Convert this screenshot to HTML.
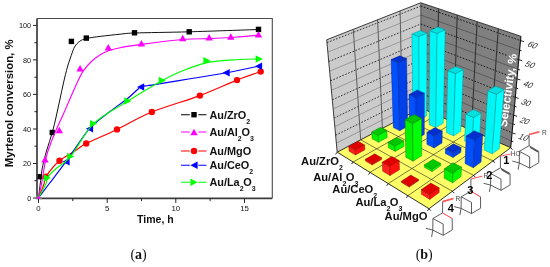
<!DOCTYPE html>
<html><head><meta charset="utf-8"><title>Figure</title>
<style>html,body{margin:0;padding:0;background:#fff;}svg{display:block;}</style></head><body>
<svg width="550" height="267" viewBox="0 0 550 267">
<defs><clipPath id="clipL"><rect x="36.4" y="18.5" width="235.3" height="180.6"/></clipPath></defs>
<rect width="550" height="267" fill="#fff"/>
<g>
<rect x="37.0" y="18.5" width="235.3" height="179.8" fill="#fff" stroke="none"/>
<path d="M37.0 18.5 H272.3 V198.3" fill="none" stroke="#4a4a4a" stroke-width="1.1"/>
<path d="M38.5 197.8 C38.8 195.5 39.6 188.8 40.2 184.0 C40.8 179.2 41.1 174.6 42.1 169.1 C43.1 163.6 44.8 157.1 46.5 151.0 C48.2 144.9 50.7 138.3 52.3 132.5 C53.9 126.7 55.0 121.6 56.3 116.0 C57.6 110.4 58.8 104.7 60.0 99.0 C61.2 93.3 62.5 87.3 63.7 82.0 C64.9 76.7 66.2 71.5 67.4 67.1 C68.7 62.7 70.0 59.0 71.2 55.6 C72.4 52.2 73.3 49.0 74.8 46.6 C76.2 44.2 78.0 42.6 79.9 41.2 C81.8 39.9 82.8 39.3 86.3 38.5 C89.8 37.7 95.3 37.0 100.9 36.3 C106.5 35.6 114.4 34.8 120.0 34.2 C125.6 33.7 123.0 33.4 134.5 33.0 C146.0 32.6 168.5 32.4 189.2 31.8 C209.9 31.2 246.9 29.9 258.5 29.5" fill="none" stroke="#111" stroke-width="1.0"/>
<rect x="36.5" y="174.0" width="5.4" height="5.4" fill="#000"/>
<rect x="49.6" y="129.8" width="5.4" height="5.4" fill="#000"/>
<rect x="68.7" y="38.7" width="5.4" height="5.4" fill="#000"/>
<rect x="83.6" y="35.4" width="5.4" height="5.4" fill="#000"/>
<rect x="131.8" y="30.1" width="5.4" height="5.4" fill="#000"/>
<rect x="186.5" y="29.1" width="5.4" height="5.4" fill="#000"/>
<rect x="255.8" y="26.7" width="5.4" height="5.4" fill="#000"/>
<path d="M38.5 197.8 C39.0 195.5 40.6 188.6 41.5 184.0 C42.4 179.4 43.1 174.0 43.8 170.0 C44.5 166.0 44.9 163.3 45.6 160.0 C46.4 156.7 46.8 154.4 48.3 150.0 C49.8 145.6 52.1 139.5 54.5 133.8 C56.9 128.1 60.0 121.6 62.5 116.0 C65.0 110.4 67.0 105.7 69.5 100.0 C72.0 94.3 75.2 86.8 77.5 82.0 C79.8 77.2 81.1 74.2 83.3 70.9 C85.5 67.6 88.2 64.7 90.9 62.0 C93.7 59.4 96.6 57.0 99.8 55.0 C103.0 53.0 106.6 51.5 110.0 50.3 C113.4 49.1 114.8 48.7 120.0 47.7 C125.2 46.7 131.0 45.8 141.4 44.4 C151.8 43.0 171.4 40.5 182.7 39.5 C194.0 38.5 201.2 38.9 209.2 38.6 C217.2 38.3 222.6 38.1 230.8 37.5 C239.0 36.9 253.9 35.6 258.5 35.2" fill="none" stroke="#ff00ff" stroke-width="1.15"/>
<path d="M45.0 155.9 l3.7 6.5 h-7.4 z" fill="#ff00ff"/>
<path d="M59.3 126.7 l3.7 6.5 h-7.4 z" fill="#ff00ff"/>
<path d="M80.1 65.1 l3.7 6.5 h-7.4 z" fill="#ff00ff"/>
<path d="M108.3 44.1 l3.7 6.5 h-7.4 z" fill="#ff00ff"/>
<path d="M141.4 39.9 l3.7 6.5 h-7.4 z" fill="#ff00ff"/>
<path d="M182.7 34.8 l3.7 6.5 h-7.4 z" fill="#ff00ff"/>
<path d="M209.2 34.1 l3.7 6.5 h-7.4 z" fill="#ff00ff"/>
<path d="M230.8 33.3 l3.7 6.5 h-7.4 z" fill="#ff00ff"/>
<path d="M258.5 30.9 l3.7 6.5 h-7.4 z" fill="#ff00ff"/>
<path d="M38.5 197.8 C39.4 195.5 42.8 187.5 44.0 184.0 C45.2 180.5 43.3 180.6 45.9 176.7 C48.5 172.8 54.4 165.2 59.5 160.8 C64.6 156.4 72.0 152.9 76.4 150.0 C80.9 147.1 79.4 146.9 86.2 143.5 C93.0 140.1 106.1 134.7 117.0 129.4 C127.9 124.2 138.0 117.6 151.8 112.0 C165.6 106.4 185.7 100.9 199.9 95.6 C214.1 90.3 226.9 84.1 237.0 80.1 C247.1 76.1 256.8 73.0 260.7 71.6" fill="none" stroke="#ff0000" stroke-width="1.15"/>
<circle cx="45.9" cy="176.7" r="3.2" fill="#ff0000"/>
<circle cx="59.5" cy="160.8" r="3.2" fill="#ff0000"/>
<circle cx="86.2" cy="143.5" r="3.2" fill="#ff0000"/>
<circle cx="117.0" cy="129.4" r="3.2" fill="#ff0000"/>
<circle cx="151.8" cy="112.0" r="3.2" fill="#ff0000"/>
<circle cx="199.9" cy="95.6" r="3.2" fill="#ff0000"/>
<circle cx="237.0" cy="80.1" r="3.2" fill="#ff0000"/>
<circle cx="260.7" cy="71.6" r="3.2" fill="#ff0000"/>
<path d="M38.5 197.8 C40.2 195.5 44.4 190.0 49.0 184.0 C53.6 178.0 59.2 170.9 66.0 161.7 C72.8 152.5 82.2 137.1 89.5 128.7 C96.8 120.3 103.8 116.5 110.0 111.5 C116.2 106.5 122.5 102.6 127.0 99.0 C131.5 95.4 134.7 92.0 137.0 90.0 C139.3 88.0 138.9 87.7 140.6 87.0 C142.3 86.3 144.4 86.1 147.0 85.7 C149.6 85.3 148.8 85.6 156.0 84.4 C163.2 83.2 178.3 80.7 190.0 78.8 C201.7 76.9 214.7 74.9 226.1 72.8 C237.5 70.7 253.1 67.3 258.5 66.2" fill="none" stroke="#0000ff" stroke-width="1.15"/>
<path d="M62.4 161.7 l7.2 -3.7 v7.4 z" fill="#0000ff"/>
<path d="M85.9 128.7 l7.2 -3.7 v7.4 z" fill="#0000ff"/>
<path d="M137.0 87.0 l7.2 -3.7 v7.4 z" fill="#0000ff"/>
<path d="M222.5 72.8 l7.2 -3.7 v7.4 z" fill="#0000ff"/>
<path d="M254.9 66.2 l7.2 -3.7 v7.4 z" fill="#0000ff"/>
<path d="M38.5 197.8 C39.7 195.5 44.4 187.3 45.9 184.0 C47.4 180.7 45.7 180.4 47.2 178.0 C48.7 175.6 51.1 173.1 55.0 169.5 C58.9 165.9 64.3 164.1 70.7 156.4 C77.1 148.8 84.1 132.8 93.6 123.6 C103.1 114.4 116.5 108.2 127.9 101.0 C139.4 93.8 153.5 85.4 162.3 80.5 C171.1 75.6 173.4 74.5 180.8 71.5 C188.2 68.5 197.3 64.6 207.0 62.6 C216.7 60.6 230.1 60.1 238.8 59.5 C247.5 58.9 255.8 59.1 259.2 59.0" fill="none" stroke="#00ff00" stroke-width="1.15"/>
<path d="M50.8 178.0 l-7.2 -3.7 v7.4 z" fill="#00ff00"/>
<path d="M74.3 156.4 l-7.2 -3.7 v7.4 z" fill="#00ff00"/>
<path d="M97.2 123.6 l-7.2 -3.7 v7.4 z" fill="#00ff00"/>
<path d="M131.5 101.0 l-7.2 -3.7 v7.4 z" fill="#00ff00"/>
<path d="M165.9 80.5 l-7.2 -3.7 v7.4 z" fill="#00ff00"/>
<path d="M210.6 60.8 l-7.2 -3.7 v7.4 z" fill="#00ff00"/>
<path d="M262.8 59.0 l-7.2 -3.7 v7.4 z" fill="#00ff00"/>
<path d="M37.0 18.5 V198.3 H272.3" fill="none" stroke="#3c3c3c" stroke-width="1.7"/>
<path d="M37.0 198.0 h-4.0" stroke="#222" stroke-width="1"/>
<text x="31.2" y="200.7" font-family='"Liberation Sans", Arial, sans-serif' font-size="7.3" text-anchor="end" fill="#111">0</text>
<path d="M37.0 180.7 h-2.6" stroke="#222" stroke-width="1"/>
<path d="M37.0 163.5 h-4.0" stroke="#222" stroke-width="1"/>
<text x="31.2" y="166.1" font-family='"Liberation Sans", Arial, sans-serif' font-size="7.3" text-anchor="end" fill="#111">20</text>
<path d="M37.0 146.2 h-2.6" stroke="#222" stroke-width="1"/>
<path d="M37.0 129.0 h-4.0" stroke="#222" stroke-width="1"/>
<text x="31.2" y="131.6" font-family='"Liberation Sans", Arial, sans-serif' font-size="7.3" text-anchor="end" fill="#111">40</text>
<path d="M37.0 111.7 h-2.6" stroke="#222" stroke-width="1"/>
<path d="M37.0 94.4 h-4.0" stroke="#222" stroke-width="1"/>
<text x="31.2" y="97.1" font-family='"Liberation Sans", Arial, sans-serif' font-size="7.3" text-anchor="end" fill="#111">60</text>
<path d="M37.0 77.2 h-2.6" stroke="#222" stroke-width="1"/>
<path d="M37.0 59.9 h-4.0" stroke="#222" stroke-width="1"/>
<text x="31.2" y="62.6" font-family='"Liberation Sans", Arial, sans-serif' font-size="7.3" text-anchor="end" fill="#111">80</text>
<path d="M37.0 42.7 h-2.6" stroke="#222" stroke-width="1"/>
<path d="M37.0 25.4 h-4.0" stroke="#222" stroke-width="1"/>
<text x="31.2" y="28.1" font-family='"Liberation Sans", Arial, sans-serif' font-size="7.3" text-anchor="end" fill="#111">100</text>
<path d="M38.5 198.3 v4.6" stroke="#222" stroke-width="1"/>
<text x="38.5" y="210.6" font-family='"Liberation Sans", Arial, sans-serif' font-size="7.8" text-anchor="middle" fill="#111">0</text>
<path d="M72.8 198.3 v2.8" stroke="#222" stroke-width="1"/>
<path d="M107.2 198.3 v4.6" stroke="#222" stroke-width="1"/>
<text x="107.2" y="210.6" font-family='"Liberation Sans", Arial, sans-serif' font-size="7.8" text-anchor="middle" fill="#111">5</text>
<path d="M141.5 198.3 v2.8" stroke="#222" stroke-width="1"/>
<path d="M175.8 198.3 v4.6" stroke="#222" stroke-width="1"/>
<text x="175.8" y="210.6" font-family='"Liberation Sans", Arial, sans-serif' font-size="7.8" text-anchor="middle" fill="#111">10</text>
<path d="M210.1 198.3 v2.8" stroke="#222" stroke-width="1"/>
<path d="M244.5 198.3 v4.6" stroke="#222" stroke-width="1"/>
<text x="244.5" y="210.6" font-family='"Liberation Sans", Arial, sans-serif' font-size="7.8" text-anchor="middle" fill="#111">15</text>
<g clip-path="url(#clipL)">
<path d="M42.1 198.2 l-7.2 -3.7 v7.4 z" fill="#00ff00"/>
<path d="M38.5 194.6 l3.7 6.5 h-7.4 z" fill="#ff00ff"/>
</g>
<text transform="translate(12.7,103.3) rotate(-90) scale(1.085,1)" font-family='"Liberation Sans", Arial, sans-serif' font-size="10.5" font-weight="bold" text-anchor="middle" fill="#111">Myrtenol conversion, %</text>
<text x="155.4" y="222.8" font-family='"Liberation Sans", Arial, sans-serif' font-size="10.5" font-weight="bold" text-anchor="middle" fill="#111">Time, h</text>
<path d="M181 114.7 H189.8 M198.3 114.7 H206.5" stroke="#000" stroke-width="1.1"/>
<rect x="191.3" y="112.0" width="5.4" height="5.4" fill="#000"/>
<text x="209.4" y="118.7" font-family='"Liberation Sans", Arial, sans-serif' font-size="10.9" font-weight="bold" fill="#111">Au/ZrO<tspan dy="4.8" font-size="7">2</tspan><tspan dx="-0.6" dy="-4.8" font-size="1"> </tspan></text>
<path d="M181 132.0 H189.8 M198.3 132.0 H206.5" stroke="#ff00ff" stroke-width="1.1"/>
<path d="M194.0 128.7 l3.7 6.5 h-7.4 z" fill="#ff00ff"/>
<text x="209.4" y="136.0" font-family='"Liberation Sans", Arial, sans-serif' font-size="10.9" font-weight="bold" fill="#111">Au/Al<tspan dy="4.8" font-size="7">2</tspan><tspan dx="-0.6" dy="-4.8" font-size="1"> </tspan>O<tspan dy="4.8" font-size="7">3</tspan><tspan dx="-0.6" dy="-4.8" font-size="1"> </tspan></text>
<path d="M181 151.0 H189.8 M198.3 151.0 H206.5" stroke="#ff0000" stroke-width="1.1"/>
<circle cx="194.0" cy="151.0" r="3.2" fill="#ff0000"/>
<text x="209.4" y="155.0" font-family='"Liberation Sans", Arial, sans-serif' font-size="10.9" font-weight="bold" fill="#111">Au/MgO</text>
<path d="M181 165.3 H189.8 M198.3 165.3 H206.5" stroke="#0000ff" stroke-width="1.1"/>
<path d="M190.4 165.3 l7.2 -3.7 v7.4 z" fill="#0000ff"/>
<text x="209.4" y="169.3" font-family='"Liberation Sans", Arial, sans-serif' font-size="10.9" font-weight="bold" fill="#111">Au/CeO<tspan dy="4.8" font-size="7">2</tspan><tspan dx="-0.6" dy="-4.8" font-size="1"> </tspan></text>
<path d="M181 182.3 H189.8 M198.3 182.3 H206.5" stroke="#00ff00" stroke-width="1.1"/>
<path d="M197.6 182.3 l-7.2 -3.7 v7.4 z" fill="#00ff00"/>
<text x="209.4" y="186.3" font-family='"Liberation Sans", Arial, sans-serif' font-size="10.9" font-weight="bold" fill="#111">Au/La<tspan dy="4.8" font-size="7">2</tspan><tspan dx="-0.6" dy="-4.8" font-size="1"> </tspan>O<tspan dy="4.8" font-size="7">3</tspan><tspan dx="-0.6" dy="-4.8" font-size="1"> </tspan></text>
<text x="138.6" y="258.8" font-family='"Liberation Serif", serif' font-size="14" text-anchor="middle" fill="#111">(<tspan font-weight="bold">a</tspan>)</text>
</g>
<g>
<polygon points="337.2,152.2 421.0,108.0 420.8,2.8 326.7,39.8" fill="#cbcbcb" stroke="none" stroke-width="0.7" stroke-linejoin="round" />
<polygon points="421.0,108.0 510.7,147.7 520.9,36.3 420.8,2.8" fill="#808080" stroke="none" stroke-width="0.7" stroke-linejoin="round" />
<line x1="336.3" y1="143.1" x2="421.0" y2="100.6" stroke="#6e6e6e" stroke-width="0.55" />
<line x1="421.0" y1="100.6" x2="511.3" y2="141.0" stroke="#3c3c3c" stroke-width="0.55" />
<line x1="335.6" y1="135.2" x2="421.0" y2="93.1" stroke="#1a1a1a" stroke-width="0.85" stroke-dasharray="1.7 1.5"/>
<line x1="421.0" y1="93.1" x2="512.1" y2="132.9" stroke="#0a0a0a" stroke-width="0.85" stroke-dasharray="1.7 1.5"/>
<line x1="334.8" y1="126.6" x2="421.0" y2="84.9" stroke="#6e6e6e" stroke-width="0.55" />
<line x1="421.0" y1="84.9" x2="512.9" y2="124.1" stroke="#3c3c3c" stroke-width="0.55" />
<line x1="334.0" y1="118.0" x2="420.9" y2="76.7" stroke="#1a1a1a" stroke-width="0.85" stroke-dasharray="1.7 1.5"/>
<line x1="420.9" y1="76.7" x2="513.7" y2="115.3" stroke="#0a0a0a" stroke-width="0.85" stroke-dasharray="1.7 1.5"/>
<line x1="333.2" y1="108.9" x2="420.9" y2="68.2" stroke="#6e6e6e" stroke-width="0.55" />
<line x1="420.9" y1="68.2" x2="514.5" y2="106.3" stroke="#3c3c3c" stroke-width="0.55" />
<line x1="332.3" y1="99.8" x2="420.9" y2="59.7" stroke="#1a1a1a" stroke-width="0.85" stroke-dasharray="1.7 1.5"/>
<line x1="420.9" y1="59.7" x2="515.3" y2="97.4" stroke="#0a0a0a" stroke-width="0.85" stroke-dasharray="1.7 1.5"/>
<line x1="331.4" y1="90.3" x2="420.9" y2="50.9" stroke="#6e6e6e" stroke-width="0.55" />
<line x1="420.9" y1="50.9" x2="516.2" y2="88.1" stroke="#3c3c3c" stroke-width="0.55" />
<line x1="330.5" y1="80.8" x2="420.9" y2="42.1" stroke="#1a1a1a" stroke-width="0.85" stroke-dasharray="1.7 1.5"/>
<line x1="420.9" y1="42.1" x2="517.0" y2="78.9" stroke="#0a0a0a" stroke-width="0.85" stroke-dasharray="1.7 1.5"/>
<line x1="329.6" y1="71.2" x2="420.9" y2="33.1" stroke="#6e6e6e" stroke-width="0.55" />
<line x1="420.9" y1="33.1" x2="517.9" y2="69.3" stroke="#3c3c3c" stroke-width="0.55" />
<line x1="328.7" y1="61.5" x2="420.8" y2="24.0" stroke="#1a1a1a" stroke-width="0.85" stroke-dasharray="1.7 1.5"/>
<line x1="420.8" y1="24.0" x2="518.8" y2="59.7" stroke="#0a0a0a" stroke-width="0.85" stroke-dasharray="1.7 1.5"/>
<line x1="327.8" y1="52.1" x2="420.8" y2="15.1" stroke="#6e6e6e" stroke-width="0.55" />
<line x1="420.8" y1="15.1" x2="519.6" y2="50.2" stroke="#3c3c3c" stroke-width="0.55" />
<line x1="327.0" y1="42.6" x2="420.8" y2="6.1" stroke="#1a1a1a" stroke-width="0.85" stroke-dasharray="1.7 1.5"/>
<line x1="420.8" y1="6.1" x2="520.5" y2="40.6" stroke="#0a0a0a" stroke-width="0.85" stroke-dasharray="1.7 1.5"/>
<line x1="402.4" y1="117.8" x2="400.1" y2="10.9" stroke="#5c5c5c" stroke-width="1.0" />
<line x1="382.4" y1="128.3" x2="377.6" y2="19.8" stroke="#5c5c5c" stroke-width="1.0" />
<line x1="360.7" y1="139.8" x2="353.3" y2="29.4" stroke="#5c5c5c" stroke-width="1.0" />
<line x1="436.9" y1="115.0" x2="438.5" y2="8.7" stroke="#333" stroke-width="1.1" />
<line x1="453.7" y1="122.5" x2="457.2" y2="15.0" stroke="#333" stroke-width="1.1" />
<line x1="471.5" y1="130.4" x2="477.1" y2="21.7" stroke="#333" stroke-width="1.1" />
<line x1="490.5" y1="138.8" x2="498.3" y2="28.7" stroke="#333" stroke-width="1.1" />
<polyline points="337.2,152.2 326.7,39.8 420.8,2.8 520.9,36.3" fill="none" stroke="#2a2a2a" stroke-width="0.9" stroke-linejoin="round"/>
<line x1="421.0" y1="108.0" x2="420.8" y2="2.8" stroke="#3a3a3a" stroke-width="0.8" />
<polygon points="337.2,152.2 429.0,208.7 510.7,147.7 421.0,108.0" fill="#ffff66" stroke="#1a1a1a" stroke-width="0.9" stroke-linejoin="round" />
<line x1="402.4" y1="117.8" x2="493.0" y2="160.9" stroke="#222" stroke-width="0.6" />
<line x1="382.4" y1="128.3" x2="473.7" y2="175.4" stroke="#222" stroke-width="0.6" />
<line x1="360.7" y1="139.8" x2="452.4" y2="191.2" stroke="#222" stroke-width="0.6" />
<line x1="436.9" y1="115.0" x2="353.1" y2="162.0" stroke="#222" stroke-width="0.6" />
<line x1="453.7" y1="122.5" x2="370.1" y2="172.4" stroke="#222" stroke-width="0.6" />
<line x1="471.5" y1="130.4" x2="388.3" y2="183.6" stroke="#222" stroke-width="0.6" />
<line x1="490.5" y1="138.8" x2="407.9" y2="195.7" stroke="#222" stroke-width="0.6" />
<line x1="337.2" y1="152.2" x2="335.6" y2="154.4" stroke="#111" stroke-width="0.9" />
<line x1="353.1" y1="162.0" x2="351.5" y2="164.2" stroke="#111" stroke-width="0.9" />
<line x1="370.1" y1="172.4" x2="368.5" y2="174.6" stroke="#111" stroke-width="0.9" />
<line x1="388.3" y1="183.6" x2="386.7" y2="185.8" stroke="#111" stroke-width="0.9" />
<line x1="407.9" y1="195.7" x2="406.3" y2="197.9" stroke="#111" stroke-width="0.9" />
<line x1="429.0" y1="208.7" x2="427.4" y2="210.9" stroke="#111" stroke-width="0.9" />
<line x1="510.7" y1="147.7" x2="512.5" y2="149.7" stroke="#111" stroke-width="0.9" />
<line x1="493.0" y1="160.9" x2="494.8" y2="162.9" stroke="#111" stroke-width="0.9" />
<line x1="473.7" y1="175.4" x2="475.5" y2="177.4" stroke="#111" stroke-width="0.9" />
<line x1="452.4" y1="191.2" x2="454.2" y2="193.2" stroke="#111" stroke-width="0.9" />
<line x1="429.0" y1="208.7" x2="430.8" y2="210.7" stroke="#111" stroke-width="0.9" />
<line x1="511.3" y1="141.0" x2="513.3" y2="141.6" stroke="#111" stroke-width="0.9" />
<line x1="512.1" y1="132.9" x2="515.5" y2="133.9" stroke="#111" stroke-width="0.9" />
<text transform="translate(521.9,139.8) rotate(17) skewX(-20)" font-family='"Liberation Sans", Arial, sans-serif' font-size="8.2" text-anchor="middle" fill="#222">10</text>
<line x1="512.9" y1="124.1" x2="514.9" y2="124.7" stroke="#111" stroke-width="0.9" />
<line x1="513.7" y1="115.3" x2="517.1" y2="116.3" stroke="#111" stroke-width="0.9" />
<text transform="translate(523.1,123.3) rotate(17) skewX(-20)" font-family='"Liberation Sans", Arial, sans-serif' font-size="8.2" text-anchor="middle" fill="#222">20</text>
<line x1="514.5" y1="106.3" x2="516.5" y2="106.9" stroke="#111" stroke-width="0.9" />
<line x1="515.3" y1="97.4" x2="518.7" y2="98.4" stroke="#111" stroke-width="0.9" />
<text transform="translate(524.6,105.1) rotate(17) skewX(-20)" font-family='"Liberation Sans", Arial, sans-serif' font-size="8.2" text-anchor="middle" fill="#222">30</text>
<line x1="516.2" y1="88.1" x2="518.2" y2="88.7" stroke="#111" stroke-width="0.9" />
<line x1="517.0" y1="78.9" x2="520.4" y2="79.9" stroke="#111" stroke-width="0.9" />
<text transform="translate(526.5,86.9) rotate(17) skewX(-20)" font-family='"Liberation Sans", Arial, sans-serif' font-size="8.2" text-anchor="middle" fill="#222">40</text>
<line x1="517.9" y1="69.3" x2="519.9" y2="69.9" stroke="#111" stroke-width="0.9" />
<line x1="518.8" y1="59.7" x2="522.2" y2="60.7" stroke="#111" stroke-width="0.9" />
<text transform="translate(528.4,67.1) rotate(17) skewX(-20)" font-family='"Liberation Sans", Arial, sans-serif' font-size="8.2" text-anchor="middle" fill="#222">50</text>
<line x1="519.6" y1="50.2" x2="521.6" y2="50.8" stroke="#111" stroke-width="0.9" />
<line x1="520.5" y1="40.6" x2="523.9" y2="41.6" stroke="#111" stroke-width="0.9" />
<text transform="translate(531.0,47.4) rotate(17) skewX(-20)" font-family='"Liberation Sans", Arial, sans-serif' font-size="8.2" text-anchor="middle" fill="#222">60</text>
<line x1="510.7" y1="147.7" x2="520.9" y2="36.3" stroke="#111" stroke-width="1.1" />
<text transform="matrix(0.136,-0.991,0.985,0.17,511.8,91.0)" font-family='"Liberation Sans", Arial, sans-serif' font-size="11.7" font-weight="bold" text-anchor="middle" fill="#fff">Selectivity, %</text>
<polygon points="412.8,117.0 419.2,119.9 418.9,36.6 411.9,34.0" fill="#00f4f4" stroke="#008888" stroke-width="0.4" stroke-linejoin="round" />
<polygon points="419.2,119.9 426.6,115.9 427.0,33.1 418.9,36.6" fill="#00ffff" stroke="#008888" stroke-width="0.4" stroke-linejoin="round" />
<polygon points="420.0,30.6 427.0,33.1 418.9,36.6 411.9,34.0" fill="#00e0e0" stroke="#008888" stroke-width="0.4" stroke-linejoin="round" />
<polygon points="429.1,124.5 435.8,127.7 437.1,33.5 429.7,30.7" fill="#00f4f4" stroke="#008888" stroke-width="0.4" stroke-linejoin="round" />
<polygon points="435.8,127.7 443.2,123.3 445.2,29.8 437.1,33.5" fill="#00ffff" stroke="#008888" stroke-width="0.4" stroke-linejoin="round" />
<polygon points="437.8,27.1 445.2,29.8 437.1,33.5 429.7,30.7" fill="#00e0e0" stroke="#008888" stroke-width="0.4" stroke-linejoin="round" />
<polygon points="393.3,127.5 399.7,130.7 398.0,62.5 391.1,59.6" fill="#0050ff" stroke="#001880" stroke-width="0.4" stroke-linejoin="round" />
<polygon points="399.7,130.7 407.7,126.3 406.6,58.6 398.0,62.5" fill="#0040e8" stroke="#001880" stroke-width="0.4" stroke-linejoin="round" />
<polygon points="399.7,55.8 406.6,58.6 398.0,62.5 391.1,59.6" fill="#0030d0" stroke="#001880" stroke-width="0.4" stroke-linejoin="round" />
<polygon points="446.3,132.5 453.5,135.9 455.5,73.6 447.8,70.6" fill="#00f4f4" stroke="#008888" stroke-width="0.4" stroke-linejoin="round" />
<polygon points="453.5,135.9 460.8,131.3 463.2,69.5 455.5,73.6" fill="#00ffff" stroke="#008888" stroke-width="0.4" stroke-linejoin="round" />
<polygon points="455.6,66.5 463.2,69.5 455.5,73.6 447.8,70.6" fill="#00e0e0" stroke="#008888" stroke-width="0.4" stroke-linejoin="round" />
<polygon points="409.6,135.6 416.4,139.1 416.0,97.6 409.0,94.4" fill="#0050ff" stroke="#001880" stroke-width="0.4" stroke-linejoin="round" />
<polygon points="416.4,139.1 424.3,134.4 424.4,93.2 416.0,97.6" fill="#0040e8" stroke="#001880" stroke-width="0.4" stroke-linejoin="round" />
<polygon points="417.3,90.1 424.4,93.2 416.0,97.6 409.0,94.4" fill="#0030d0" stroke="#001880" stroke-width="0.4" stroke-linejoin="round" />
<polygon points="372.1,138.8 378.5,142.3 378.2,135.3 371.7,131.9" fill="#00f000" stroke="#007000" stroke-width="0.4" stroke-linejoin="round" />
<polygon points="378.5,142.3 387.2,137.5 386.9,130.6 378.2,135.3" fill="#00ff00" stroke="#007000" stroke-width="0.4" stroke-linejoin="round" />
<polygon points="380.5,127.3 386.9,130.6 378.2,135.3 371.7,131.9" fill="#00c800" stroke="#007000" stroke-width="0.4" stroke-linejoin="round" />
<polygon points="464.6,141.0 472.2,144.6 473.6,117.6 465.7,114.1" fill="#00f4f4" stroke="#008888" stroke-width="0.4" stroke-linejoin="round" />
<polygon points="472.2,144.6 479.4,139.7 481.0,112.9 473.6,117.6" fill="#00ffff" stroke="#008888" stroke-width="0.4" stroke-linejoin="round" />
<polygon points="473.2,109.6 481.0,112.9 473.6,117.6 465.7,114.1" fill="#00e0e0" stroke="#008888" stroke-width="0.4" stroke-linejoin="round" />
<polygon points="426.9,144.3 434.1,148.0 434.2,135.9 426.9,132.3" fill="#0050ff" stroke="#001880" stroke-width="0.4" stroke-linejoin="round" />
<polygon points="434.1,148.0 442.0,143.0 442.3,131.0 434.2,135.9" fill="#0040e8" stroke="#001880" stroke-width="0.4" stroke-linejoin="round" />
<polygon points="435.0,127.6 442.3,131.0 434.2,135.9 426.9,132.3" fill="#0030d0" stroke="#001880" stroke-width="0.4" stroke-linejoin="round" />
<polygon points="388.4,147.7 395.2,151.4 395.0,146.0 388.2,142.3" fill="#00f000" stroke="#007000" stroke-width="0.4" stroke-linejoin="round" />
<polygon points="395.2,151.4 403.9,146.4 403.8,141.0 395.0,146.0" fill="#00ff00" stroke="#007000" stroke-width="0.4" stroke-linejoin="round" />
<polygon points="396.9,137.4 403.8,141.0 395.0,146.0 388.2,142.3" fill="#00c800" stroke="#007000" stroke-width="0.4" stroke-linejoin="round" />
<polygon points="349.1,151.2 355.5,155.0 355.1,150.0 348.7,146.3" fill="#ff2020" stroke="#800000" stroke-width="0.4" stroke-linejoin="round" />
<polygon points="355.5,155.0 364.9,149.8 364.6,144.9 355.1,150.0" fill="#ff1010" stroke="#800000" stroke-width="0.4" stroke-linejoin="round" />
<polygon points="358.2,141.2 364.6,144.9 355.1,150.0 348.7,146.3" fill="#e00000" stroke="#800000" stroke-width="0.4" stroke-linejoin="round" />
<polygon points="484.1,150.1 492.2,153.9 496.5,94.3 487.8,90.8" fill="#00f4f4" stroke="#008888" stroke-width="0.4" stroke-linejoin="round" />
<polygon points="492.2,153.9 499.3,148.7 504.1,89.5 496.5,94.3" fill="#00ffff" stroke="#008888" stroke-width="0.4" stroke-linejoin="round" />
<polygon points="495.4,86.2 504.1,89.5 496.5,94.3 487.8,90.8" fill="#00e0e0" stroke="#008888" stroke-width="0.4" stroke-linejoin="round" />
<polygon points="445.3,153.6 453.1,157.5 453.2,152.8 445.4,148.9" fill="#0050ff" stroke="#001880" stroke-width="0.4" stroke-linejoin="round" />
<polygon points="453.1,157.5 460.9,152.2 461.1,147.5 453.2,152.8" fill="#0040e8" stroke="#001880" stroke-width="0.4" stroke-linejoin="round" />
<polygon points="453.4,143.8 461.1,147.5 453.2,152.8 445.4,148.9" fill="#0030d0" stroke="#001880" stroke-width="0.4" stroke-linejoin="round" />
<polygon points="405.8,157.2 413.0,161.2 412.6,123.4 405.1,119.6" fill="#00f000" stroke="#007000" stroke-width="0.4" stroke-linejoin="round" />
<polygon points="413.0,161.2 421.7,155.8 421.6,118.3 412.6,123.4" fill="#00ff00" stroke="#007000" stroke-width="0.4" stroke-linejoin="round" />
<polygon points="414.1,114.6 421.6,118.3 412.6,123.4 405.1,119.6" fill="#00c800" stroke="#007000" stroke-width="0.4" stroke-linejoin="round" />
<polygon points="365.4,160.9 372.2,164.9 372.1,163.3 365.3,159.2" fill="#ff2020" stroke="#800000" stroke-width="0.4" stroke-linejoin="round" />
<polygon points="372.2,164.9 381.6,159.4 381.6,157.7 372.1,163.3" fill="#ff1010" stroke="#800000" stroke-width="0.4" stroke-linejoin="round" />
<polygon points="374.7,153.8 381.6,157.7 372.1,163.3 365.3,159.2" fill="#e00000" stroke="#800000" stroke-width="0.4" stroke-linejoin="round" />
<polygon points="465.0,163.5 473.3,167.7 474.7,140.0 466.2,136.0" fill="#0050ff" stroke="#001880" stroke-width="0.4" stroke-linejoin="round" />
<polygon points="473.3,167.7 481.1,162.0 482.7,134.5 474.7,140.0" fill="#0040e8" stroke="#001880" stroke-width="0.4" stroke-linejoin="round" />
<polygon points="474.3,130.7 482.7,134.5 474.7,140.0 466.2,136.0" fill="#0030d0" stroke="#001880" stroke-width="0.4" stroke-linejoin="round" />
<polygon points="424.3,167.3 432.1,171.6 432.1,169.2 424.3,164.9" fill="#00f000" stroke="#007000" stroke-width="0.4" stroke-linejoin="round" />
<polygon points="432.1,171.6 440.7,165.8 440.8,163.4 432.1,169.2" fill="#00ff00" stroke="#007000" stroke-width="0.4" stroke-linejoin="round" />
<polygon points="433.0,159.3 440.8,163.4 432.1,169.2 424.3,164.9" fill="#00c800" stroke="#007000" stroke-width="0.4" stroke-linejoin="round" />
<polygon points="382.7,171.2 390.0,175.6 389.7,166.4 382.3,162.1" fill="#ff2020" stroke="#800000" stroke-width="0.4" stroke-linejoin="round" />
<polygon points="390.0,175.6 399.5,169.7 399.2,160.6 389.7,166.4" fill="#ff1010" stroke="#800000" stroke-width="0.4" stroke-linejoin="round" />
<polygon points="391.9,156.4 399.2,160.6 389.7,166.4 382.3,162.1" fill="#e00000" stroke="#800000" stroke-width="0.4" stroke-linejoin="round" />
<polygon points="444.2,178.2 452.6,182.8 452.9,173.2 444.4,168.7" fill="#00f000" stroke="#007000" stroke-width="0.4" stroke-linejoin="round" />
<polygon points="452.6,182.8 461.1,176.6 461.5,167.0 452.9,173.2" fill="#00ff00" stroke="#007000" stroke-width="0.4" stroke-linejoin="round" />
<polygon points="453.1,162.7 461.5,167.0 452.9,173.2 444.4,168.7" fill="#00c800" stroke="#007000" stroke-width="0.4" stroke-linejoin="round" />
<polygon points="401.3,182.4 409.2,187.1 409.2,185.9 401.3,181.2" fill="#ff2020" stroke="#800000" stroke-width="0.4" stroke-linejoin="round" />
<polygon points="409.2,187.1 418.6,180.7 418.6,179.6 409.2,185.9" fill="#ff1010" stroke="#800000" stroke-width="0.4" stroke-linejoin="round" />
<polygon points="410.8,175.1 418.6,179.6 409.2,185.9 401.3,181.2" fill="#e00000" stroke="#800000" stroke-width="0.4" stroke-linejoin="round" />
<polygon points="421.4,194.3 429.8,199.4 429.8,194.6 421.3,189.6" fill="#ff2020" stroke="#800000" stroke-width="0.4" stroke-linejoin="round" />
<polygon points="429.8,199.4 439.2,192.5 439.2,187.8 429.8,194.6" fill="#ff1010" stroke="#800000" stroke-width="0.4" stroke-linejoin="round" />
<polygon points="430.8,183.0 439.2,187.8 429.8,194.6 421.3,189.6" fill="#e00000" stroke="#800000" stroke-width="0.4" stroke-linejoin="round" />
<line x1="529.1" y1="145.7" x2="519.4" y2="151.3" stroke="#4a4a4a" stroke-width="0.9" />
<line x1="529.1" y1="145.7" x2="538.7" y2="151.3" stroke="#4a4a4a" stroke-width="0.9" />
<line x1="530.0" y1="147.2" x2="538.1" y2="152.0" stroke="#4a4a4a" stroke-width="1.3" />
<line x1="538.7" y1="151.3" x2="538.8" y2="162.7" stroke="#4a4a4a" stroke-width="0.9" />
<line x1="538.8" y1="162.7" x2="529.7" y2="168.1" stroke="#4a4a4a" stroke-width="0.9" />
<line x1="529.7" y1="168.1" x2="519.3" y2="162.9" stroke="#4a4a4a" stroke-width="0.9" />
<line x1="519.4" y1="151.3" x2="519.3" y2="162.9" stroke="#4a4a4a" stroke-width="0.9" />
<line x1="519.3" y1="162.9" x2="518.1" y2="169.7" stroke="#4a4a4a" stroke-width="0.9" />
<line x1="519.4" y1="151.3" x2="529.7" y2="156.9" stroke="#4a4a4a" stroke-width="0.9" />
<line x1="529.7" y1="156.9" x2="529.7" y2="168.1" stroke="#4a4a4a" stroke-width="0.9" />
<line x1="512.3" y1="161.1" x2="519.3" y2="162.9" stroke="#4a4a4a" stroke-width="0.9" />
<line x1="529.1" y1="145.7" x2="529.1" y2="134.6" stroke="#4a4a4a" stroke-width="0.9" />
<line x1="529.1" y1="134.6" x2="539.4" y2="131.7" stroke="#ff5050" stroke-width="1.6" />
<text x="544.5" y="134.6" font-family='"Liberation Sans", Arial, sans-serif' font-size="6.6" text-anchor="middle" fill="#444">R</text>
<line x1="500.4" y1="167.9" x2="490.7" y2="173.5" stroke="#4a4a4a" stroke-width="0.9" />
<line x1="500.4" y1="167.9" x2="510.0" y2="173.5" stroke="#4a4a4a" stroke-width="0.9" />
<line x1="501.3" y1="169.4" x2="509.4" y2="174.2" stroke="#4a4a4a" stroke-width="1.3" />
<line x1="510.0" y1="173.5" x2="510.1" y2="184.9" stroke="#4a4a4a" stroke-width="0.9" />
<line x1="510.1" y1="184.9" x2="501.0" y2="190.3" stroke="#4a4a4a" stroke-width="0.9" />
<line x1="501.0" y1="190.3" x2="490.6" y2="185.1" stroke="#4a4a4a" stroke-width="0.9" />
<line x1="490.7" y1="173.5" x2="490.6" y2="185.1" stroke="#4a4a4a" stroke-width="0.9" />
<line x1="490.6" y1="185.1" x2="489.4" y2="191.9" stroke="#4a4a4a" stroke-width="0.9" />
<line x1="490.7" y1="173.5" x2="501.0" y2="179.1" stroke="#4a4a4a" stroke-width="0.9" />
<line x1="501.0" y1="179.1" x2="501.0" y2="190.3" stroke="#4a4a4a" stroke-width="0.9" />
<line x1="483.6" y1="183.3" x2="490.6" y2="185.1" stroke="#4a4a4a" stroke-width="0.9" />
<line x1="500.4" y1="167.9" x2="500.4" y2="156.1" stroke="#4a4a4a" stroke-width="0.9" />
<line x1="500.4" y1="156.1" x2="510.8" y2="154.0" stroke="#ff5050" stroke-width="0.9" />
<text x="515.6" y="156.3" font-family='"Liberation Sans", Arial, sans-serif' font-size="6.6" text-anchor="middle" fill="#444">HO</text>
<line x1="470.9" y1="191.2" x2="461.2" y2="196.8" stroke="#4a4a4a" stroke-width="0.9" />
<line x1="470.9" y1="191.2" x2="480.5" y2="196.8" stroke="#ff3b3b" stroke-width="1.0" />
<line x1="480.5" y1="196.8" x2="480.6" y2="208.2" stroke="#4a4a4a" stroke-width="0.9" />
<line x1="480.6" y1="208.2" x2="471.5" y2="213.6" stroke="#4a4a4a" stroke-width="0.9" />
<line x1="471.5" y1="213.6" x2="461.1" y2="208.4" stroke="#4a4a4a" stroke-width="0.9" />
<line x1="461.2" y1="196.8" x2="461.1" y2="208.4" stroke="#4a4a4a" stroke-width="0.9" />
<line x1="461.1" y1="208.4" x2="459.9" y2="215.2" stroke="#4a4a4a" stroke-width="0.9" />
<line x1="461.2" y1="196.8" x2="471.5" y2="202.4" stroke="#4a4a4a" stroke-width="0.9" />
<line x1="471.5" y1="202.4" x2="471.5" y2="213.6" stroke="#4a4a4a" stroke-width="0.9" />
<line x1="454.1" y1="206.6" x2="461.1" y2="208.4" stroke="#4a4a4a" stroke-width="0.9" />
<line x1="470.9" y1="191.2" x2="470.9" y2="179.0" stroke="#4a4a4a" stroke-width="0.9" />
<line x1="470.9" y1="179.0" x2="482.4" y2="176.1" stroke="#ff5050" stroke-width="1.0" />
<text x="486.0" y="178.1" font-family='"Liberation Sans", Arial, sans-serif' font-size="6.6" text-anchor="middle" fill="#444">R</text>
<line x1="442.6" y1="212.9" x2="432.9" y2="218.5" stroke="#4a4a4a" stroke-width="0.9" />
<line x1="442.6" y1="212.9" x2="452.2" y2="218.5" stroke="#ff3b3b" stroke-width="1.0" />
<line x1="452.2" y1="218.5" x2="452.3" y2="229.9" stroke="#4a4a4a" stroke-width="0.9" />
<line x1="452.3" y1="229.9" x2="443.2" y2="235.3" stroke="#4a4a4a" stroke-width="0.9" />
<line x1="443.2" y1="235.3" x2="432.8" y2="230.1" stroke="#4a4a4a" stroke-width="0.9" />
<line x1="432.9" y1="218.5" x2="432.8" y2="230.1" stroke="#4a4a4a" stroke-width="0.9" />
<line x1="432.8" y1="230.1" x2="431.6" y2="236.9" stroke="#4a4a4a" stroke-width="0.9" />
<line x1="432.9" y1="218.5" x2="443.2" y2="224.1" stroke="#4a4a4a" stroke-width="0.9" />
<line x1="443.2" y1="224.1" x2="443.2" y2="235.3" stroke="#4a4a4a" stroke-width="0.9" />
<line x1="425.8" y1="228.3" x2="432.8" y2="230.1" stroke="#4a4a4a" stroke-width="0.9" />
<line x1="442.6" y1="212.9" x2="442.6" y2="201.6" stroke="#4a4a4a" stroke-width="0.9" />
<line x1="442.6" y1="201.6" x2="453.5" y2="198.5" stroke="#ff5050" stroke-width="1.8" />
<text x="458.0" y="201.3" font-family='"Liberation Sans", Arial, sans-serif' font-size="6.6" text-anchor="middle" fill="#444">R</text>
<text x="301.1" y="165.0" font-family='"Liberation Sans", Arial, sans-serif' font-size="11.2" font-weight="bold" fill="#111">Au/ZrO<tspan dx="0" dy="5" font-size="7">2</tspan><tspan dx="-0.8" dy="-5" font-size="1"> </tspan></text>
<text x="313.2" y="180.7" font-family='"Liberation Sans", Arial, sans-serif' font-size="11.2" font-weight="bold" fill="#111">Au/Al<tspan dx="0" dy="5" font-size="7">2</tspan><tspan dx="-0.8" dy="-5" font-size="1"> </tspan>O<tspan dx="0" dy="5" font-size="7">3</tspan><tspan dx="-0.8" dy="-5" font-size="1"> </tspan></text>
<text x="332.3" y="192.8" font-family='"Liberation Sans", Arial, sans-serif' font-size="11.2" font-weight="bold" fill="#111">Au/CeO<tspan dx="0" dy="5" font-size="7">2</tspan><tspan dx="-0.8" dy="-5" font-size="1"> </tspan></text>
<text x="355.4" y="205.8" font-family='"Liberation Sans", Arial, sans-serif' font-size="11.2" font-weight="bold" fill="#111">Au/La<tspan dx="0" dy="5" font-size="7">2</tspan><tspan dx="-0.8" dy="-5" font-size="1"> </tspan>O<tspan dx="0" dy="5" font-size="7">3</tspan><tspan dx="-0.8" dy="-5" font-size="1"> </tspan></text>
<text x="384.6" y="219.8" font-family='"Liberation Sans", Arial, sans-serif' font-size="11.2" font-weight="bold" fill="#111">Au/MgO</text>
<text x="506.3" y="164.1" font-family='"Liberation Sans", Arial, sans-serif' font-size="11" font-weight="bold" text-anchor="middle" fill="#000">1</text>
<text x="489.2" y="178.6" font-family='"Liberation Sans", Arial, sans-serif' font-size="11" font-weight="bold" text-anchor="middle" fill="#000">2</text>
<text x="470.3" y="193.9" font-family='"Liberation Sans", Arial, sans-serif' font-size="11" font-weight="bold" text-anchor="middle" fill="#000">3</text>
<text x="450.9" y="211.9" font-family='"Liberation Sans", Arial, sans-serif' font-size="11" font-weight="bold" text-anchor="middle" fill="#000">4</text>
<text x="424.2" y="258.8" font-family='"Liberation Serif", serif' font-size="14" text-anchor="middle" fill="#111">(<tspan font-weight="bold">b</tspan>)</text>
</g>
</svg></body></html>
